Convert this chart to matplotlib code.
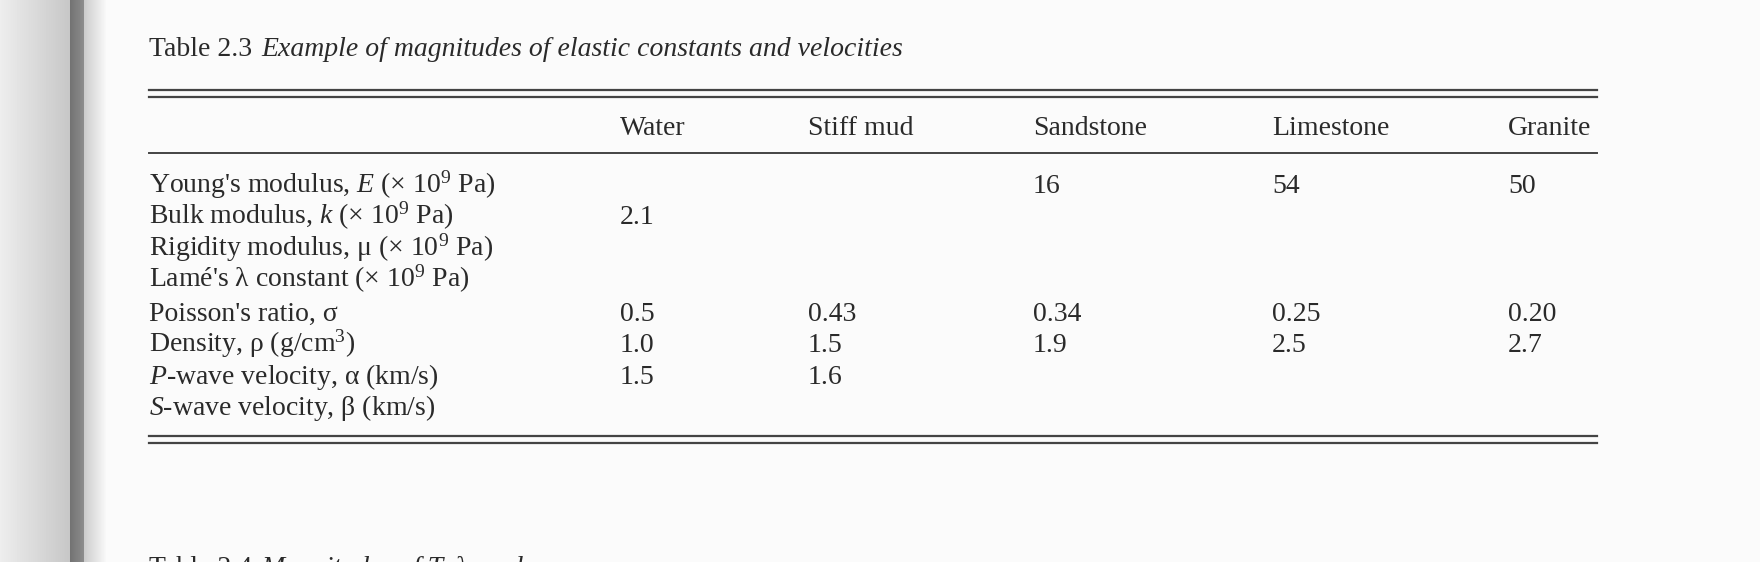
import matplotlib
matplotlib.use("Agg")
import matplotlib.pyplot as plt
import numpy as np

plt.rcParams['font.family'] = ['Liberation Serif', 'DejaVu Serif']
plt.rcParams['mathtext.fontset'] = 'custom'
plt.rcParams['mathtext.rm'] = 'Liberation Serif'
plt.rcParams['mathtext.it'] = 'Liberation Serif:italic'

title_num = "Table 2.3"
title_txt = "Example of magnitudes of elastic constants and velocities"
columns = ["Water", "Stiff mud", "Sandstone", "Limestone", "Granite"]
row_labels = [
    r"Young's modulus, $E$ (× 10$^{9}$ Pa)",
    r"Bulk modulus, $k$ (× 10$^{9}$ Pa)",
    r"Rigidity modulus, μ (× 10$^{9}$ Pa)",
    r"Lamé's λ constant (× 10$^{9}$ Pa)",
    "Poisson's ratio, σ",
    r"Density, ρ (g/cm$^{3}$)",
    r"$P$-wave velocity, α (km/s)",
    r"$S$-wave velocity, β (km/s)",
]
water     = ["", "2.1", "", "", "0.5", "1.0", "1.5", ""]
stiff_mud = ["", "", "", "", "0.43", "1.5", "1.6", ""]
sandstone = ["16", "", "", "", "0.34", "1.9", "", ""]
limestone = ["54", "", "", "", "0.25", "2.5", "", ""]
granite   = ["50", "", "", "", "0.20", "2.7", "", ""]
values = [water, stiff_mud, sandstone, limestone, granite]

W, H = 1760, 562
fig = plt.figure(figsize=(W/100, H/100), dpi=100)
ax = fig.add_axes([0, 0, 1, 1])
ax.set_xlim(0, W); ax.set_ylim(H, 0); ax.axis('off')
fig.patch.set_facecolor('#fbfbfb')

# scanned page edge shading on the left
grad = np.concatenate([np.linspace(0.93, 0.78, 70), np.linspace(0.45, 0.55, 14), np.linspace(0.80, 0.97, 22)])
ax.imshow(np.tile(grad, (2, 1)), cmap='gray', vmin=0, vmax=1, aspect='auto',
          extent=[0, len(grad), H, 0], zorder=0)

fs = 20
col = '#2a2a2a'
x0, x1 = 149, 1597
ax.text(x0, 56, title_num, fontsize=fs, color=col, va='baseline')
ax.text(x0 + 112, 56, title_txt, fontsize=fs, color=col, style='italic', va='baseline')

for y in (90, 97):
    ax.plot([x0, x1], [y, y], color='#444444', lw=1.6)
ax.plot([x0, x1], [153, 153], color='#444444', lw=1.4)
for y in (436, 443):
    ax.plot([x0, x1], [y, y], color='#444444', lw=1.6)

col_x = [620, 808, 1033, 1272, 1508]
for cx, c in zip(col_x, columns):
    ax.text(cx, 135, c, fontsize=fs, color=col, va='baseline')

row_y = [193, 224, 256, 287, 321, 352, 384, 415]
for ry, lab in zip(row_y, row_labels):
    ax.text(x0, ry, lab, fontsize=fs, color=col, va='baseline')
for cx, vals in zip(col_x, values):
    for ry, v in zip(row_y, vals):
        if v:
            ax.text(cx, ry, v, fontsize=fs, color=col, va='baseline')

ax.text(x0, 575, "Table 2.4", fontsize=fs, color=col, va='baseline')
ax.text(x0 + 112, 575, "Magnitudes of T, λ, and μ", fontsize=fs, color=col, style='italic', va='baseline')

fig.savefig("out.png", dpi=100, facecolor=fig.get_facecolor())
